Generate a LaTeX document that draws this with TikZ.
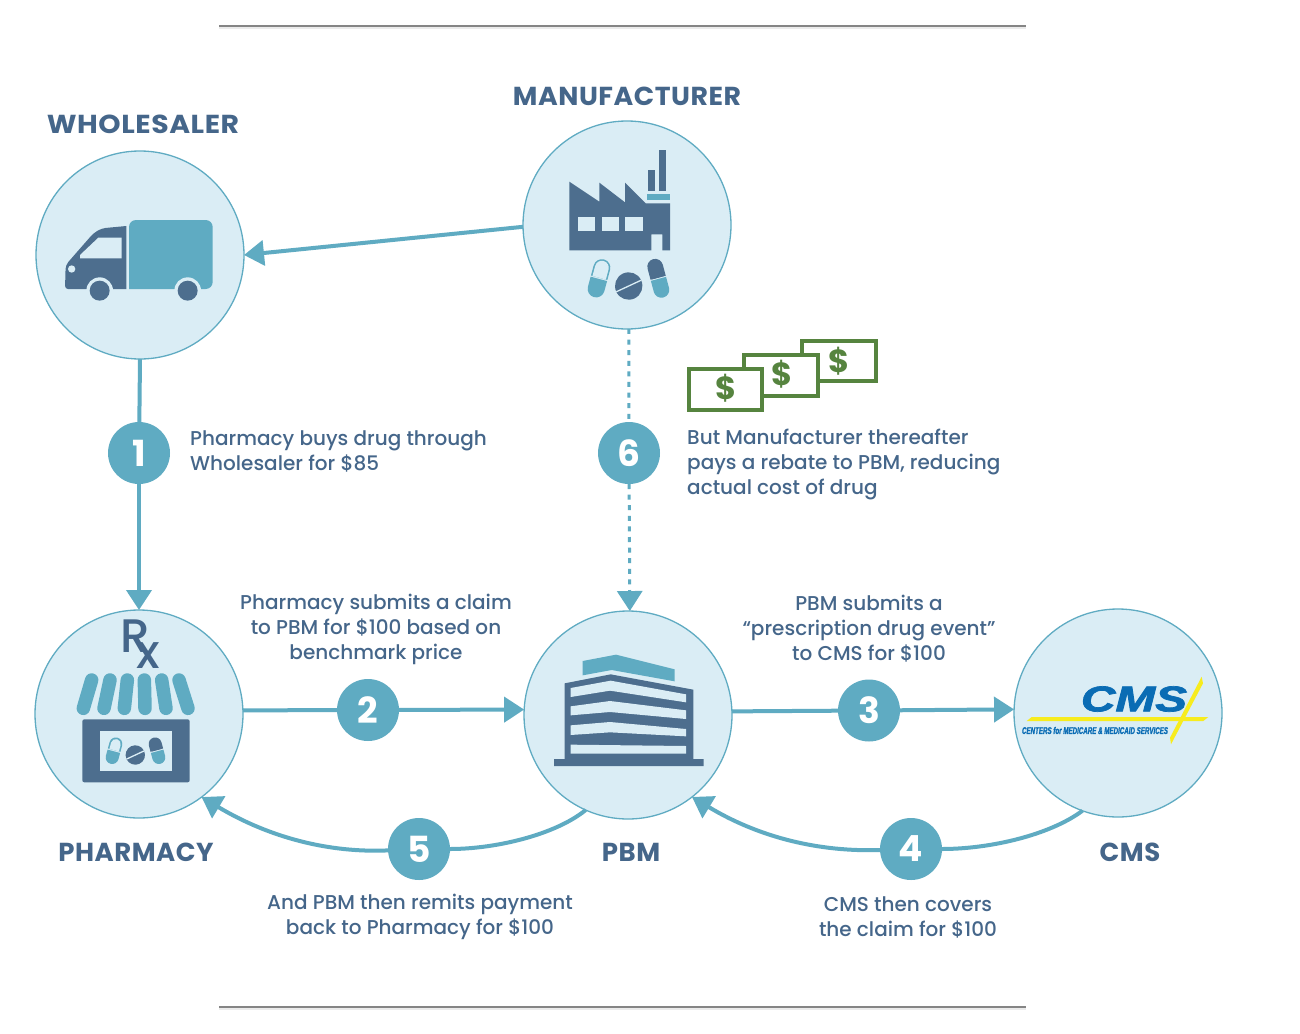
\documentclass[tikz,border=0pt]{standalone}
\usepackage{fontspec}
\usepackage{graphicx}
\setmainfont{Poppins Medium}
\newfontfamily\titlefont{Poppins}[LetterSpace=2,UprightFont=* Bold]
\newfontfamily\numfont{Poppins}[UprightFont=* Bold]
\newfontfamily\logofont{Liberation Sans}[BoldItalicFeatures={FakeBold=2}]
\usetikzlibrary{arrows.meta}
\definecolor{ttl}{HTML}{45668A}
\definecolor{dk}{HTML}{4D6E8E}
\definecolor{teal}{HTML}{5FABC2}
\definecolor{pale}{HTML}{DAEDF5}
\definecolor{grn}{HTML}{56843F}
\definecolor{cmsb}{HTML}{0A6CB4}
\definecolor{cmsy}{HTML}{F7EC1E}
\newcommand{\capsule}[7]{%
 \begin{scope}[shift={(#1)},rotate=#2]
  \begin{scope}\clip (-30,-60) rectangle (30,-0.6);
   \draw[line cap=round,line width=#4pt,color=#5] (0,-#3) -- (0,#3);
   \draw[line cap=round,line width=#4pt-3.2pt,color=#6] (0,-#3) -- (0,#3);
  \end{scope}
  \begin{scope}\clip (-30,0.6) rectangle (30,60);
   \draw[line cap=round,line width=#4pt,color=#7] (0,-#3) -- (0,#3);
  \end{scope}
 \end{scope}}
\newcommand{\tablet}[2]{%
 \begin{scope}[shift={(#1)},rotate=25]
  \fill[dk] (0,0) circle (#2pt);
  \draw[pale,line width=1.3pt] (-#2,0) -- (#2,0);
 \end{scope}}
\tikzset{
 x=1pt,y=-1pt,
 hub/.style={circle,draw=teal,fill=pale,line width=1.3pt,minimum size=208pt,inner sep=0pt,outer sep=0pt},
 num/.style={circle,fill=teal,text=white,minimum size=62pt,inner sep=0pt,outer sep=0pt,font=\fontsize{36}{36}\selectfont\numfont},
 title/.style={text=ttl,font=\fontsize{26}{30}\selectfont\titlefont,inner sep=0pt},
 body/.style={text=ttl,font=\fontsize{20}{25}\selectfont,inner sep=0pt,align=center},
 link/.style={draw=teal,line width=4pt},
 tip/.style={-{Triangle[length=20pt,width=25pt]}},
 dotl/.style={draw=teal,line width=3pt,dash pattern=on 5pt off 5.6pt},
 bill/.style={draw=grn,fill=white,line width=3.8pt},
 usd/.style={text=grn,font=\fontsize{32}{32}\selectfont\numfont,inner sep=0pt},
 rule/.style={draw=black!48,line width=1.8pt},
 ruleshade/.style={draw=black!8,line width=2pt},
}
\begin{document}
\begin{tikzpicture}
\useasboundingbox (0,0) rectangle (1300,1033);
\fill[white] (0,0) rectangle (1300,1033);
% rules
\coordinate (rtl) at (219,26); \coordinate (rtr) at (1026,26);
\coordinate (rbl) at (219,1007); \coordinate (rbr) at (1026,1007);
\draw[ruleshade] ([yshift=-2pt]rtl) -- ([yshift=-2pt]rtr);
\draw[ruleshade] ([yshift=-2pt]rbl) -- ([yshift=-2pt]rbr);
\draw[rule] (rtl) -- (rtr);
\draw[rule] (rbl) -- (rbr);
% hubs
\node[hub] (wh) at (140,255) {};
\node[hub] (mf) at (627,225) {};
\node[hub] (ph) at (139,714) {};
\node[hub] (pb) at (628,715) {};
\node[hub] (cm) at (1118,713) {};
% numbers
\node[num] (n1) at (139,453) {1};
\node[num] (n6) at (629,453) {6};
\node[num] (n2) at (368,710) {2};
\node[num] (n3) at (869,710.5) {3};
\node[num] (n5) at (419,849) {5};
\node[num] (n4) at (911,849) {4};
% connectors
\draw[link,tip] (mf.181) -- (wh.0);
\draw[link] (wh.270.5) -- (n1);
\draw[link,tip] (n1) -- (ph.90);
\draw[link] (ph.2) -- (n2);
\draw[link,tip] (n2) -- (pb.177.5);
\draw[link] (pb.2) -- (n3);
\draw[link,tip] (n3) -- (cm.178.5);
\draw[dotl] (mf.-89) -- (n6);
\draw[dotl,tip] (n6) -- (pb.89);
\draw[link] (pb.-114) .. controls (555,835) and (495,849) .. (n5);
\draw[link,tip] (n5) .. controls (330,853) and (270,838) .. (ph.-53);
\draw[link] (cm.-110) .. controls (1050,835) and (990,849) .. (n4);
\draw[link,tip] (n4) .. controls (820,852) and (760,838) .. (pb.-52);
% truck
\begin{scope}[shift={(30,140)},scale=1/3]
 \fill[teal] (297,447) [rounded corners=7pt] -- (297,240) -- (548,240) -- (548,447) [sharp corners] -- cycle;
 \fill[dk] (289,258) [rounded corners=4pt] -- (215,265) -- (190,280) -- (107,375) [rounded corners=3pt] -- (105,447) [sharp corners] -- (289,447) -- cycle;
 \fill[pale] (275,293) -- (275,355) -- (150,355) -- (150,345) -- (205,293) -- cycle;
 \fill[pale] (125,387) circle (11pt);
 \fill[pale] (209,452) circle (40pt);
 \fill[pale] (473,452) circle (40pt);
 \fill[dk] (209,452) circle (30pt);
 \fill[dk] (473,452) circle (30pt);
\end{scope}
% factory
\begin{scope}[shift={(515,115)},scale=1/3]
 \fill[dk] (163,200) -- (253,260) -- (253,203) -- (330,262) -- (330,203) -- (392,265) -- (465,265) -- (465,406) -- (442,406) -- (442,358) -- (409,358) -- (409,406) -- (163,406) -- cycle;
 \fill[pale] (190,305) rectangle (241,348);
 \fill[pale] (262,305) rectangle (313,348);
 \fill[pale] (331,305) rectangle (383,348);
 \fill[dk] (399,166) rectangle (420,227);
 \fill[dk] (431,104) rectangle (453,227);
 \fill[teal] (397,237) rectangle (465,256);
\end{scope}
\capsule{599,278.3}{-15}{11}{17}{teal}{pale}{teal}
\capsule{658.3,278.3}{15}{12}{15.7}{dk}{dk}{teal}
\tablet{628.7,286}{13.7}
% store
\node[text=ttl,font=\fontsize{47}{47}\selectfont,inner sep=0pt] (rx) at (140,644) {R\kern-13.5pt\raisebox{-16pt}{x}};
\begin{scope}[shift={(30,600)},scale=1/3]
 \foreach \a/\b in {185/160,240/222,292/283,343/345,395/408,447/474}
  \draw[teal,line width=13.5pt,line cap=round] (\a,240) -- (\b,325);
 \fill[dk,rounded corners=2pt] (157,358) rectangle (479,547);
 \fill[pale] (211,393) rectangle (427,514);
\end{scope}
\capsule{114,750.7}{-15}{7}{13}{teal}{pale}{teal}
\capsule{157,750.7}{15}{7}{13}{dk}{dk}{teal}
\tablet{135.3,755}{9.7}
% building
\begin{scope}[shift={(520,605)},scale=1/3]
 \fill[teal] (188,168) -- (288,149) -- (464,193) -- (464,229) -- (275,195) -- (188,211) -- cycle;
 \fill[dk] (134,235) -- (272,208) -- (520,254) -- (520,462) -- (551,462) -- (551,483) -- (102,483) -- (102,462) -- (134,462) -- cycle;
 \fill[pale] (152,249) -- (272,227) -- (498,268) -- (498,292) -- (270,257) -- (152,276) -- cycle;
 \fill[pale] (152,304) -- (270,288) -- (498,316) -- (498,342) -- (270,321) -- (152,331) -- cycle;
 \fill[pale] (152,361) -- (270,351) -- (498,372) -- (498,394) -- (270,382) -- (152,390) -- cycle;
 \fill[pale] (152,419) -- (498,423) -- (498,446) -- (152,446) -- cycle;
\end{scope}
% CMS logo
\begin{scope}[shift={(1005,605)},scale=1/3]
 \fill[cmsy] (80,336) -- (610,336) -- (595,348) -- (65,348) -- cycle;
 \fill[cmsy] (590,215) -- (594,235) -- (498,418) -- (495,398) -- cycle;
\end{scope}
\node[text=cmsb,inner sep=0pt] (cmsl) at (1134,699) {\resizebox{106pt}{25pt}{\logofont\bfseries\itshape CMS}};
\node[text=cmsb,inner sep=0pt] (cmss) at (1095,730.5) {\resizebox{146pt}{7pt}{\logofont\bfseries\itshape CENTERS for MEDICARE \& MEDICAID SERVICES}};
% money
\begin{scope}[shift={(680,330)},scale=1/3]
 \draw[bill] (365,33) rectangle (587,153);
 \draw[bill] (193,74) rectangle (415,197);
 \draw[bill] (26,116) rectangle (247,240);
\end{scope}
\node[usd] (d3) at (839,361) {\$};
\node[usd] (d2) at (782,374) {\$};
\node[usd] (d1) at (726,388) {\$};
% titles
\node[title] (t1) at (143,124) {\scalebox{1.09}[1]{WHOLESALER}};
\node[title] (t2) at (627,96) {\scalebox{1.03}[1]{MANUFACTURER}};
\node[title] (t3) at (136,852) {PHARMACY};
\node[title] (t4) at (631,852) {PBM};
\node[title] (t5) at (1130,852) {CMS};
% labels
\node[body,align=left,anchor=west] (l1) at (190,451) {Pharmacy buys drug through\\Wholesaler for \$85};
\node[body,align=left,anchor=west] (l6) at (687,464) {But Manufacturer thereafter\\pays a rebate to PBM, reducing\\actual cost of drug};
\node[body] (l2) at (376,629) {Pharmacy submits a claim\\to PBM for \$100 based on\\benchmark price};
\node[body] (l3) at (869,629) {PBM submits a\\“prescription drug event”\\to CMS for \$100};
\node[body] (l5) at (420,917) {And PBM then remits payment\\back to Pharmacy for \$100};
\node[body] (l4) at (908,917) {CMS then covers\\the claim for \$100};
\end{tikzpicture}
\end{document}
